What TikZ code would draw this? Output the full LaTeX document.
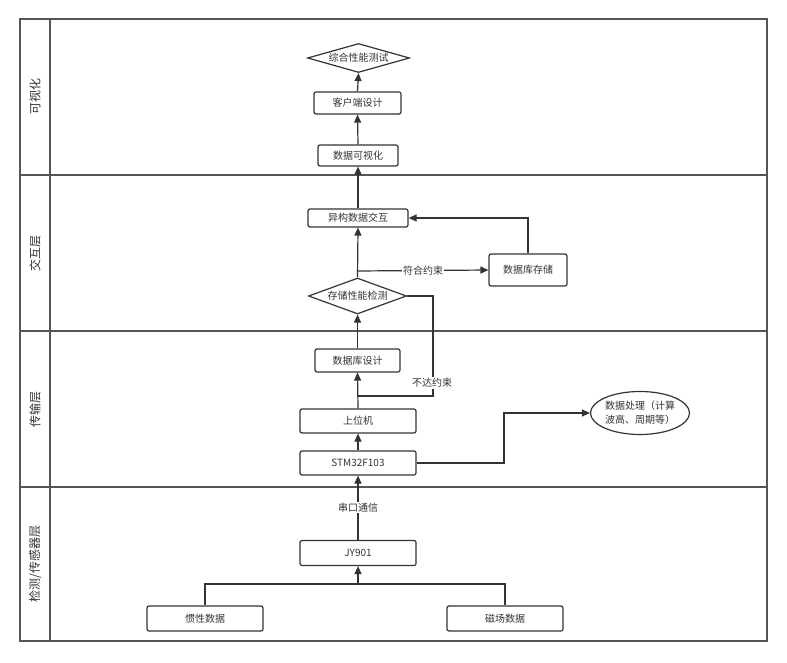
\documentclass[tikz,border=0pt]{standalone}
\usepackage{fontspec}
\setmainfont{Noto Sans CJK SC}
\usetikzlibrary{shapes.geometric,arrows.meta}
\definecolor{ln}{HTML}{333333}
\definecolor{fr}{HTML}{555555}
\definecolor{tx}{HTML}{333333}
\begin{document}
\begin{tikzpicture}[x=1pt,y=-1pt,
  box/.style={draw=ln,line width=1.2pt,rounded corners=2pt,fill=white,inner sep=0pt,text=tx,font=\fontsize{10}{12}\selectfont},
  dia/.style={draw=ln,line width=1.2pt,diamond,inner sep=0pt,fill=white,text=tx,font=\fontsize{10}{12}\selectfont},
  ell/.style={draw=ln,line width=1.2pt,ellipse,inner sep=0pt,fill=white,text=tx,align=center,font=\fontsize{10}{14}\selectfont},
  arr/.style={draw=ln,line width=1.2pt,-{Triangle[length=8pt,width=7pt]}},
  lnk/.style={draw=ln,line width=1.2pt},
  frame/.style={draw=fr,line width=1.2pt},
  lbl/.style={rotate=90,text=tx,font=\fontsize{12}{14}\selectfont},
  elbl/.style={fill=white,text=tx,inner sep=1pt,font=\fontsize{10}{12}\selectfont},
]
\useasboundingbox[fill=white] (0,0) rectangle (787,663);
% swimlanes
\draw[frame] (20,19) rectangle (767,641);
\draw[frame] (50,19) -- (50,641);
\draw[frame] (20,175) -- (767,175);
\draw[frame] (20,331) -- (767,331);
\draw[frame] (20,487) -- (767,487);
\node[lbl] (l1) at (35,97) {可视化};
\node[lbl] (l2) at (35,253) {交互层};
\node[lbl] (l3) at (35,409) {传输层};
\node[lbl] (l4) at (35,564) {检测/传感器层};
% nodes
\node[dia,aspect=3.4,minimum width=102pt,minimum height=29pt] (zh) at (358.5,58) {综合性能测试};
\node[box,minimum width=87pt,minimum height=22pt] (kh) at (357.5,103) {客户端设计};
\node[box,minimum width=80pt,minimum height=21pt] (sj) at (358,155.5) {数据可视化};
\node[box,minimum width=100pt,minimum height=18pt] (yg) at (358,218) {异构数据交互};
\node[box,minimum width=78pt,minimum height=32pt] (ck) at (528,270) {数据库存储};
\node[dia,aspect=2.8,minimum width=98pt,minimum height=36pt] (cc) at (357.5,296) {存储性能检测};
\node[box,minimum width=85pt,minimum height=23pt] (sk) at (357.5,360.5) {数据库设计};
\node[box,minimum width=116pt,minimum height=24pt] (sw) at (358,421) {上位机};
\node[box,minimum width=116pt,minimum height=24pt] (stm) at (358,463) {STM32F103};
\node[ell,minimum width=94pt,minimum height=43pt] (cl) at (640,413) {数据处理（计算\\波高、周期等）};
\node[box,minimum width=116pt,minimum height=25pt] (jy) at (358,553) {JY901};
\node[box,minimum width=116pt,minimum height=25pt] (gx) at (205,618.5) {惯性数据};
\node[box,minimum width=116pt,minimum height=25pt] (cz) at (505,618.5) {磁场数据};
% helper coordinates
\coordinate (fork) at (358,271);
\coordinate (nd) at (433,396);
\coordinate (nj) at (358,396);
\coordinate (tp) at (504,413);
\coordinate (jn) at (358,585);
% connectors
\draw[arr] (kh.north) -- (zh.south);
\draw[arr] (sj.north) -- (kh.south);
\draw[arr] (yg.north) -- (sj.south);
\draw[arr] (cc.north) -- (yg.south);
\draw[arr] (fork) -- node[elbl] {符合约束} (ck.west);
\draw[arr] (ck.north) |- (yg.east);
\draw[lnk] (cc.east) -| (nd) -- (nj);
\node[elbl] (bd) at (432,383) {不达约束};
\draw[arr] (sk.north) -- (cc.south);
\draw[arr] (sw.north) -- (sk.south);
\draw[arr] (stm.north) -- (sw.south);
\draw[arr] (stm.east) -| (tp) -- (cl.west);
\draw[arr] (jy.north) -- node[elbl] {串口通信} (stm.south);
\draw[lnk] (gx.north) -- ++(0,-21.5) -| (cz.north);
\draw[arr] (jn) -- (jy.south);
\end{tikzpicture}
\end{document}
